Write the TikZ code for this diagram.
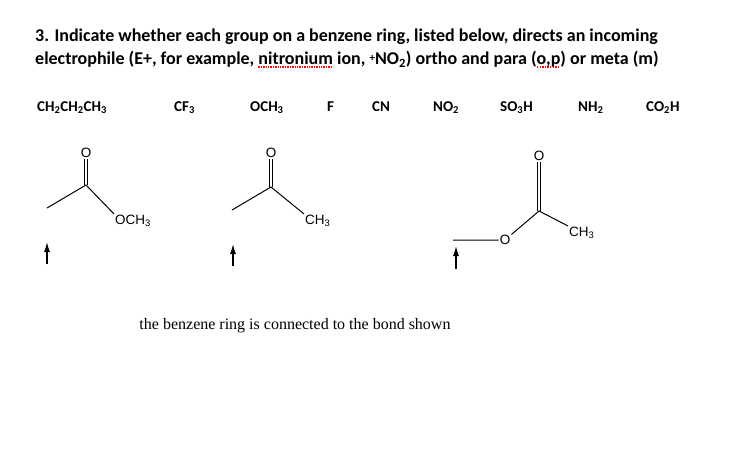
\documentclass[tikz,border=0pt]{standalone}
\usepackage{fontspec}
\setmainfont{Carlito}
\newfontfamily\arialfont{Liberation Sans}
\newfontfamily\timesfont{Liberation Serif}
\usetikzlibrary{arrows.meta}
\newcommand\spellmark[1]{\setbox0\hbox{#1}\rlap{\color{red}\raisebox{-2.8pt}{\hbox to \wd0{\xleaders\hbox{\rule{1.4pt}{1.4pt}\hspace{1pt}}\hfill}}}\box0\relax}
\newcommand\sub[1]{\textsubscript{#1}}
\tikzset{
  grp/.style={font=\fontsize{15}{17}\selectfont\bfseries, inner sep=0, anchor=base west},
  atom/.style={font=\arialfont\fontsize{13.5}{15}\selectfont, inner sep=1pt},
  bond/.style={line width=1pt},
  ringarrow/.style={line width=1.2pt, -{Latex[length=10pt,width=6pt]}}
}
\begin{document}
\begin{tikzpicture}[x=1pt,y=-1pt]
\useasboundingbox (0,0) rectangle (738,464);
% question
\node[grp, font=\fontsize{18}{23}\selectfont\bfseries, align=left, anchor=north west] (q) at (35,29)
  {3. Indicate whether each group on a benzene ring, listed below, directs an incoming\\
   electrophile (E+, for example, \spellmark{nitronium} ion, \raisebox{3pt}{\fontsize{11}{11}\selectfont+}NO\sub{2}) ortho and para (\spellmark{o,p}) or meta (m)};
% groups
\node[grp] (g1) at (37,111) {CH\sub{2}CH\sub{2}CH\sub{3}};
\node[grp] (g2) at (174,111) {CF\sub{3}};
\node[grp] (g3) at (250,111) {OCH\sub{3}};
\node[grp] (g4) at (327,111) {F};
\node[grp] (g5) at (372,111) {CN};
\node[grp] (g6) at (433,111) {NO\sub{2}};
\node[grp] (g7) at (500,111) {SO\sub{3}H};
\node[grp] (g8) at (578,111) {NH\sub{2}};
\node[grp] (g9) at (646,111) {CO\sub{2}H};
% methyl ester
\coordinate (a0) at (47,208);
\coordinate (a1) at (86,185);
\node[atom] (ao) at (86,153) {O};
\node[atom, anchor=west] (am) at (114,221) {OCH\sub{3}};
\draw[bond] (a0) -- (a1) -- (am.north west);
\draw[bond] ([xshift=-1.8pt]a1) -- ([xshift=-1.8pt]ao.south);
\draw[bond] ([xshift=1.8pt]a1) -- ([xshift=1.8pt]ao.south);
% ketone
\coordinate (b0) at (232,210);
\coordinate (b1) at (271,187);
\node[atom] (bo) at (271,153) {O};
\node[atom, anchor=west] (bm) at (304,221) {CH\sub{3}};
\draw[bond] (b0) -- (b1) -- (bm.north west);
\draw[bond] ([xshift=-1.8pt]b1) -- ([xshift=-1.8pt]bo.south);
\draw[bond] ([xshift=1.8pt]b1) -- ([xshift=1.8pt]bo.south);
% acetate
\coordinate (c0) at (453,240);
\node[atom] (cx) at (505,240) {O};
\coordinate (c1) at (539,211);
\node[atom] (co) at (539,156) {O};
\node[atom, anchor=west] (cm) at (568,233) {CH\sub{3}};
\draw[bond] (c0) -- (cx) -- (c1) -- (cm.north west);
\draw[bond] ([xshift=-1.8pt]c1) -- ([xshift=-1.8pt]co.south);
\draw[bond] ([xshift=1.8pt]c1) -- ([xshift=1.8pt]co.south);
% arrows to the ring bond
\coordinate (r1) at (47,264);
\coordinate (r2) at (233,266);
\coordinate (r3) at (456,269);
\draw[ringarrow] (r1) -- ++(0,-22);
\draw[ringarrow] (r2) -- ++(0,-22);
\draw[ringarrow] (r3) -- ++(0,-23);
% caption
\node[font=\timesfont\fontsize{16}{18}\selectfont, inner sep=0] (cap) at (295,326)
  {the benzene ring is connected to the bond shown};
\end{tikzpicture}
\end{document}
